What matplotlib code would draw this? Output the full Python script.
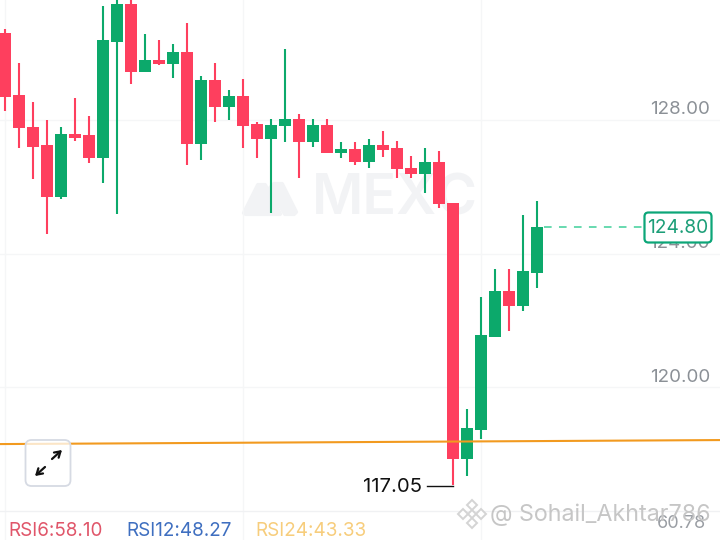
"""Candlestick screenshot with RSI readout."""
import numpy as np
import matplotlib
matplotlib.use("Agg")
import matplotlib.pyplot as plt
from matplotlib.patches import FancyBboxPatch, Polygon

opens = [130.61, 128.75, 127.79, 127.25, 125.69, 127.58, 127.55, 126.86, 130.34, 131.48,
         129.44, 129.80, 129.68, 130.04, 127.28, 129.20, 128.39, 128.72, 127.88, 127.43,
         127.82, 128.03, 127.34, 127.85, 127.01, 127.13, 126.74, 127.25, 127.16, 126.56,
         126.38, 126.74, 125.51, 117.84, 118.71, 121.50, 122.88, 122.43, 123.42]
closes = [128.69, 127.76, 127.19, 125.69, 127.58, 127.46, 126.86, 130.40, 131.48, 129.44,
          129.80, 129.68, 130.04, 127.28, 129.20, 128.39, 128.72, 127.82, 127.43, 127.85,
          128.03, 127.34, 127.85, 127.01, 127.13, 126.74, 127.25, 127.10, 126.53, 126.38,
          126.74, 125.48, 117.84, 118.77, 121.56, 122.88, 122.43, 123.48, 124.80]
highs = [130.73, 129.71, 128.54, 128.00, 127.79, 128.66, 128.12, 131.42, 131.75, 131.75,
         130.58, 130.40, 130.28, 130.91, 129.32, 129.71, 128.90, 129.23, 127.94, 128.03,
         130.13, 128.18, 128.03, 128.03, 127.34, 127.34, 127.43, 127.67, 127.37, 126.92,
         127.16, 127.07, 125.51, 119.34, 122.70, 123.54, 123.54, 125.15, 125.57]
lows = [128.27, 127.16, 126.23, 124.58, 125.63, 127.37, 126.71, 126.11, 125.18, 129.08,
        129.44, 129.65, 129.26, 126.65, 126.80, 127.94, 128.00, 127.16, 126.86, 125.21,
        127.34, 126.26, 127.19, 127.01, 126.86, 126.65, 126.56, 126.89, 126.26, 126.26,
        125.81, 125.36, 117.05, 117.33, 118.44, 121.50, 121.68, 122.28, 122.97]
grid_prices = [128, 124, 120]
price_labels = ["128.00", "124.00", "120.00"]
support_x = [-0.36, 51.07]
support_y = [118.29, 118.41]
last_price = 124.80
low_price = 117.05
rsi_labels = ["RSI6:58.10", "RSI12:48.27", "RSI24:43.33"]
rsi_left = [8, 126, 255]
rsi_colors = ["#e0566a", "#3f6fc0", "#f7cd7c"]

RED = "#fe3f5e"
GREEN = "#0ca96b"
GRAY = "#8b9096"
GRID = "#f5f6f7"
FONT = "Inter"
plt.rcParams["font.family"] = [FONT, "DejaVu Sans"]

fig = plt.figure(figsize=(7.2, 5.4), dpi=100)

# pixel axes under the chart, for grid pane lines and watermark
bg = fig.add_axes([0, 0, 1, 1], zorder=0)
bg.set_xlim(0, 720)
bg.set_ylim(540, 0)
bg.axis("off")
for vx in [5, 243, 481]:
    bg.plot([vx, vx], [0, 540], color=GRID, lw=1)
bg.plot([0, 720], [511, 511], color="#f0f1f3", lw=1)
WM = "#f2f3f5"
bg.add_patch(Polygon([[244, 213], [258, 185], [265, 185], [280, 214], [246, 214]],
                     closed=True, fc=WM, ec=WM, lw=3, joinstyle="round"))
bg.add_patch(Polygon([[274, 184], [282, 184], [296, 212], [294, 214], [285, 214], [270, 188]],
                     closed=True, fc=WM, ec=WM, lw=3, joinstyle="round"))
bg.text(312, 199.5, "MEXC", fontsize=40, fontweight="semibold", color=WM, va="center", ha="left")
for i, label in enumerate(price_labels):
    bg.text(710, [110, 244, 377][i], label, fontsize=13.5, color=GRAY, ha="right", va="center")

# chart axes, 14 px per candle and 33.375 px per price unit
ax = fig.add_axes([0, 0, 1, 1], zorder=1)
ax.patch.set_alpha(0)
ax.set_xlim(-5 / 14, 715 / 14)
ax.set_ylim(128 - 420 / 33.375, 128 + 120 / 33.375)
ax.axis("off")
for p in grid_prices:
    ax.axhline(p, color=GRID, lw=1, zorder=1)

xs = np.arange(len(opens))
colors = [GREEN if c >= o else RED for o, c in zip(opens, closes)]
ax.vlines(xs, lows, highs, colors=colors, lw=1.5, zorder=2)
bottoms = [min(o, c) for o, c in zip(opens, closes)]
heights = [abs(o - c) for o, c in zip(opens, closes)]
ax.bar(xs, heights, bottom=bottoms, width=12 / 14, color=colors, linewidth=0, zorder=3)
ax.plot(support_x, support_y, color="#f29a1f", lw=1.5, zorder=4)
ax.plot([xs[-1] + 0.5, 46], [last_price, last_price], color="#3fcf9a", lw=1.1,
        dashes=(5, 4.8), zorder=2)

# pixel axes above the chart for the widgets
top = fig.add_axes([0, 0, 1, 1], zorder=2)
top.patch.set_alpha(0)
top.set_xlim(0, 720)
top.set_ylim(540, 0)
top.axis("off")

top.add_patch(FancyBboxPatch((644.5, 212.5), 67, 30, boxstyle="round,pad=0,rounding_size=4",
                             fc="white", ec="#0ca678", lw=1.6))
top.text(678, 228, f"{last_price:.2f}", fontsize=13.8, color="#1c9e78", ha="center", va="center")

top.text(422, 487, f"{low_price:.2f}", fontsize=14.6, color="#111111", ha="right", va="center")
top.plot([427, 453], [486, 486], color="#111111", lw=1)

top.add_patch(FancyBboxPatch((25.5, 440), 45, 46, boxstyle="round,pad=0,rounding_size=6",
                             fc=(1, 1, 1, 0.75), ec="#d6dae3", lw=1.3))
arrow_style = dict(arrowstyle="->,head_length=0.4,head_width=0.25", color="#111111", lw=1.6,
                   shrinkA=0, shrinkB=0)
top.annotate("", xy=(62, 450), xytext=(52, 459), arrowprops=arrow_style)
top.annotate("", xy=(35, 476), xytext=(45, 467), arrowprops=arrow_style)

for x0, label, col in zip(rsi_left, rsi_labels, rsi_colors):
    top.text(x0, 530.5, label, fontsize=13.6, color=col, ha="left", va="center")

top.text(706, 523, "60.78", fontsize=13, color="#9a9ea4", ha="right", va="center")

# binance style watermark, four small diamonds round a centre one
wm_col = "#c6c6c6"
cx, cy = 472, 514
for dx, dy, r in [(0, -9, 5), (9, 0, 5), (0, 9, 5), (-9, 0, 5), (0, 0, 4)]:
    top.add_patch(Polygon([[cx + dx, cy + dy - r], [cx + dx + r, cy + dy],
                           [cx + dx, cy + dy + r], [cx + dx - r, cy + dy]], closed=True,
                          fc="white", ec="#d4d4d4", lw=1.4))
top.text(490, 515, "@ Sohail_Akhtar786", fontsize=16.8, color=wm_col, ha="left", va="center")

fig.savefig("out.png", dpi=100)
